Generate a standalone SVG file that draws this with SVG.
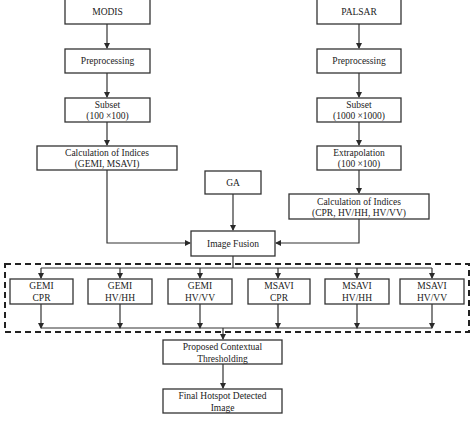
<svg xmlns="http://www.w3.org/2000/svg" width="474" height="431" viewBox="0 0 474 431">
<defs>
<marker id="ah" markerWidth="6" markerHeight="6" refX="5" refY="3" orient="auto" markerUnits="userSpaceOnUse">
<path d="M0,0 L6,3 L0,6 Z" fill="#2a2a2a"/>
</marker>
<style>
rect.b{fill:#fff;stroke:#333;stroke-width:1.3}
text{font-family:"Liberation Serif","Times New Roman",serif;font-size:9.5px;fill:#222;text-anchor:middle}
.c{fill:none;stroke:#333;stroke-width:1.2}
.a{marker-end:url(#ah)}
</style>
</defs>
<rect width="474" height="431" fill="#fff"/>
<g id="connectors">
<path class="c a" d="M107,24 V48"/>
<path class="c a" d="M107,73 V97"/>
<path class="c a" d="M107,122 V145"/>
<path class="c a" d="M359,24 V48"/>
<path class="c a" d="M359,73 V97"/>
<path class="c a" d="M359,122 V145"/>
<path class="c a" d="M359,170 V193"/>
<path class="c a" d="M233,194 V230"/>
<path class="c a" d="M107,170 V243 H190"/>
<path class="c a" d="M359,219 V243 H276"/>
<path class="c" d="M233,256 V268"/>
<path class="c" d="M41,268 H432"/>
<path class="c a" d="M41,268 V278"/>
<path class="c a" d="M120,268 V278"/>
<path class="c a" d="M200,268 V278"/>
<path class="c a" d="M278,268 V278"/>
<path class="c a" d="M357,268 V278"/>
<path class="c a" d="M432,268 V278"/>
<path class="c a" d="M41,304 V328"/>
<path class="c a" d="M120,304 V328"/>
<path class="c a" d="M200,304 V328"/>
<path class="c a" d="M278,304 V328"/>
<path class="c a" d="M357,304 V328"/>
<path class="c a" d="M432,304 V328"/>
<path class="c" d="M41,328 H432"/>
<path class="c a" d="M223,328 V339"/>
<path class="c a" d="M223,364 V388"/>
</g>
<g id="group-box">
<rect x="5" y="264" width="464" height="68" fill="none" stroke="#222" stroke-width="2" stroke-dasharray="6,4"/>
</g>
<g id="modis"><rect class="b" x="65" y="-2" width="85" height="26"/><text x="107.5" y="15">MODIS</text></g>
<g id="pre1"><rect class="b" x="65" y="49" width="85" height="24"/><text x="107.5" y="64">Preprocessing</text></g>
<g id="subset1"><rect class="b" x="65" y="98" width="85" height="24"/><text x="107.5" y="107.5">Subset</text><text x="107.5" y="119">(100 ×100)</text></g>
<g id="calc1"><rect class="b" x="37" y="146" width="140" height="24"/><text x="107" y="156">Calculation of Indices</text><text x="107" y="167">(GEMI, MSAVI)</text></g>
<g id="palsar"><rect class="b" x="317" y="-2" width="84" height="26"/><text x="359" y="15">PALSAR</text></g>
<g id="pre2"><rect class="b" x="317" y="49" width="84" height="24"/><text x="359" y="64">Preprocessing</text></g>
<g id="subset2"><rect class="b" x="317" y="98" width="84" height="24"/><text x="359" y="107.5">Subset</text><text x="359" y="119">(1000 ×1000)</text></g>
<g id="extra"><rect class="b" x="317" y="146" width="84" height="24"/><text x="359" y="156">Extrapolation</text><text x="359" y="167">(100 ×100)</text></g>
<g id="calc2"><rect class="b" x="289" y="194" width="140" height="25"/><text x="359" y="205">Calculation of Indices</text><text x="359" y="216">(CPR, HV/HH, HV/VV)</text></g>
<g id="ga"><rect class="b" x="205" y="171" width="56" height="23"/><text x="233" y="186">GA</text></g>
<g id="fusion"><rect class="b" x="191" y="231" width="84" height="25"/><text x="233" y="247">Image Fusion</text></g>
<g id="n1"><rect class="b" x="10" y="279" width="63" height="25"/><text x="41.5" y="289">GEMI</text><text x="41.5" y="301">CPR</text></g>
<g id="n2"><rect class="b" x="88" y="279" width="64" height="25"/><text x="120" y="289">GEMI</text><text x="120" y="301">HV/HH</text></g>
<g id="n3"><rect class="b" x="168" y="279" width="64" height="25"/><text x="200" y="289">GEMI</text><text x="200" y="301">HV/VV</text></g>
<g id="n4"><rect class="b" x="248" y="279" width="62" height="25"/><text x="279" y="289">MSAVI</text><text x="279" y="301">CPR</text></g>
<g id="n5"><rect class="b" x="325" y="279" width="64" height="25"/><text x="357" y="289">MSAVI</text><text x="357" y="301">HV/HH</text></g>
<g id="n6"><rect class="b" x="400" y="279" width="64" height="25"/><text x="432" y="289">MSAVI</text><text x="432" y="301">HV/VV</text></g>
<g id="prop"><rect class="b" x="163" y="340" width="119" height="24"/><text x="222.5" y="350">Proposed Contextual</text><text x="222.5" y="361.5">Thresholding</text></g>
<g id="final"><rect class="b" x="163" y="389" width="119" height="24"/><text x="222.5" y="399">Final Hotspot Detected</text><text x="222.5" y="410.5">Image</text></g>
</svg>
